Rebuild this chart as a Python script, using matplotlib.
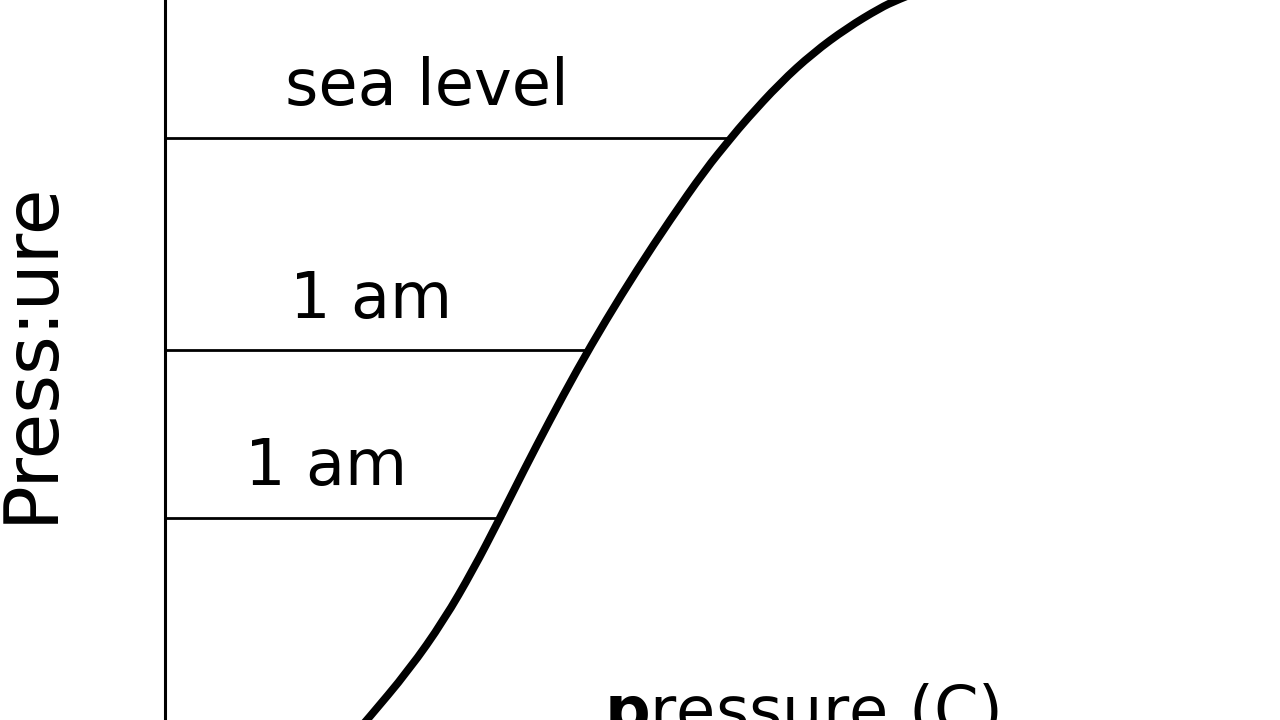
import numpy as np
import matplotlib
matplotlib.use("Agg")
import matplotlib.pyplot as plt
from matplotlib.path import Path
from matplotlib.patches import PathPatch

plt.rcParams['font.family'] = ['DejaVu Sans']
plt.rcParams['mathtext.fontset'] = 'dejavusans'

# curve (arbitrary units, 0 at the vertical axis / bottom edge)
curve_x = [195, 202, 244, 279, 308, 334, 359, 385, 412, 441, 472, 505, 540, 566, 581, 615, 648, 682, 715, 732, 752]
curve_y = [-8, 0, 50, 100, 150, 200, 250, 300, 350, 400, 450, 500, 550, 582, 600, 637, 667, 692, 712, 720, 728]

# horizontal levels and their labels
levels = [582, 370, 202]
level_names = ["sea level", "1 am", "1 am"]
label_x = [120, 125, 80]
label_y = [615, 402, 235]

fig = plt.figure(figsize=(12.8, 7.2), dpi=100, facecolor='white')
ax = fig.add_axes([165 / 1280, 0, 1 - 165 / 1280, 1])
ax.set_xlim(0, 1115)
ax.set_ylim(0, 720)

for s in ['top', 'right', 'bottom']:
    ax.spines[s].set_visible(False)
ax.spines['left'].set_linewidth(2.2)
ax.set_xticks([])
ax.set_yticks([])

# smooth S curve: quadratic pieces through the midpoints of the read points
pts = np.column_stack([curve_x, curve_y]).astype(float)
verts = [pts[0]]
codes = [Path.MOVETO]
for i in range(1, len(pts) - 1):
    end = pts[i + 1] if i == len(pts) - 2 else (pts[i] + pts[i + 1]) / 2
    verts += [pts[i], end]
    codes += [Path.CURVE3, Path.CURVE3]
ax.add_patch(PathPatch(Path(verts, codes), facecolor='none', edgecolor='black',
                       linewidth=5.6, capstyle='round', joinstyle='round', clip_on=False))

# horizontal lines stop where they meet the curve
for lev in levels:
    x_end = np.interp(lev, curve_y, curve_x)
    ax.plot([0, x_end], [lev, lev], color='black', linewidth=2.0)

for name, tx, ty in zip(level_names, label_x, label_y):
    ax.text(tx, ty, name, fontsize=46, ha='left', va='baseline', color='black')

# axis titles
fig.text(52 / 1280, 1 - 352 / 720, "Press:ure", fontsize=53.5, rotation=90,
         rotation_mode='anchor', ha='center', va='baseline', color='black')
ax.text(604 - 165, -12, r"$\mathbf{p}$ressure (C)", fontsize=46,
        ha='left', va='baseline', color='black')

fig.savefig("out.png", dpi=100, facecolor='white')
